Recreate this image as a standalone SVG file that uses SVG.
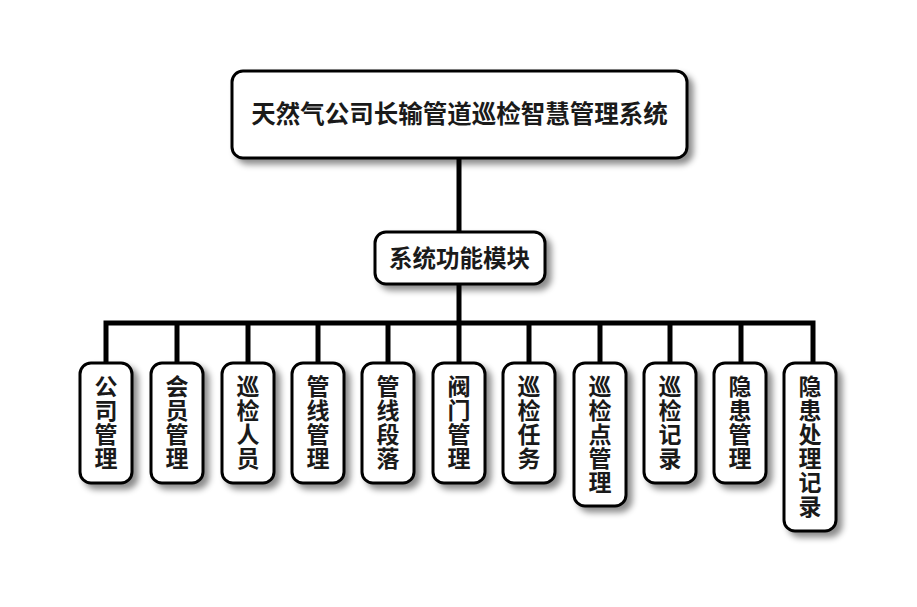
<svg xmlns="http://www.w3.org/2000/svg" width="917" height="607" viewBox="0 0 917 607">
<style>
.box{fill:#fff;stroke:#000;stroke-width:3;filter:url(#sh)}
.t{font-family:"Noto Sans CJK SC","Noto Sans",sans-serif;font-weight:bold;fill:#1a1a1a;text-anchor:middle}
.v{writing-mode:vertical-rl;font-size:23px;letter-spacing:1px;dominant-baseline:central}
.ln{stroke:#000;stroke-width:5;fill:none}
</style>
<defs>
<filter id="sh" x="-20%" y="-20%" width="150%" height="150%">
<feDropShadow dx="5" dy="5" stdDeviation="3" flood-color="#000" flood-opacity="0.45"/>
</filter>
</defs>
<rect width="917" height="607" fill="#fff"/>
<g id="connectors">
<line class="ln" x1="459" y1="158" x2="459" y2="231"/>
<line class="ln" x1="459" y1="283" x2="459" y2="323"/>
<polyline class="ln" points="106,362 106,323 813,323 813,362" stroke-linejoin="miter"/>
<line class="ln" x1="177" y1="323" x2="177" y2="362"/>
<line class="ln" x1="248" y1="323" x2="248" y2="362"/>
<line class="ln" x1="318" y1="323" x2="318" y2="362"/>
<line class="ln" x1="388" y1="323" x2="388" y2="362"/>
<line class="ln" x1="459" y1="323" x2="459" y2="362"/>
<line class="ln" x1="529" y1="323" x2="529" y2="362"/>
<line class="ln" x1="600" y1="323" x2="600" y2="362"/>
<line class="ln" x1="670" y1="323" x2="670" y2="362"/>
<line class="ln" x1="741" y1="323" x2="741" y2="362"/>
</g>
<g id="root">
<rect class="box" x="232" y="71" width="455" height="87" rx="11"/>
<text class="t" x="459.5" y="123" font-size="24.5">天然气公司长输管道巡检智慧管理系统</text>
</g>
<g id="modules">
<rect class="box" x="375" y="232" width="170" height="52" rx="11"/>
<text class="t" x="459.5" y="267" font-size="23.5">系统功能模块</text>
</g>
<g id="n1"><rect class="box" x="80" y="363" width="52" height="120" rx="11"/><text class="t v" x="106" y="423">公司管理</text></g>
<g id="n2"><rect class="box" x="151" y="363" width="52" height="120" rx="11"/><text class="t v" x="177" y="423">会员管理</text></g>
<g id="n3"><rect class="box" x="222" y="363" width="52" height="120" rx="11"/><text class="t v" x="248" y="423">巡检人员</text></g>
<g id="n4"><rect class="box" x="292" y="363" width="52" height="120" rx="11"/><text class="t v" x="318" y="423">管线管理</text></g>
<g id="n5"><rect class="box" x="362" y="363" width="52" height="120" rx="11"/><text class="t v" x="388" y="423">管线段落</text></g>
<g id="n6"><rect class="box" x="433" y="363" width="52" height="120" rx="11"/><text class="t v" x="459" y="423">阀门管理</text></g>
<g id="n7"><rect class="box" x="503" y="363" width="52" height="120" rx="11"/><text class="t v" x="529" y="423">巡检任务</text></g>
<g id="n8"><rect class="box" x="574" y="363" width="52" height="143" rx="11"/><text class="t v" x="600" y="435">巡检点管理</text></g>
<g id="n9"><rect class="box" x="644" y="363" width="52" height="120" rx="11"/><text class="t v" x="670" y="423">巡检记录</text></g>
<g id="n10"><rect class="box" x="714" y="363" width="52" height="120" rx="11"/><text class="t v" x="740" y="423">隐患管理</text></g>
<g id="n11"><rect class="box" x="784" y="363" width="52" height="168" rx="11"/><text class="t v" x="810" y="447">隐患处理记录</text></g>
</svg>
